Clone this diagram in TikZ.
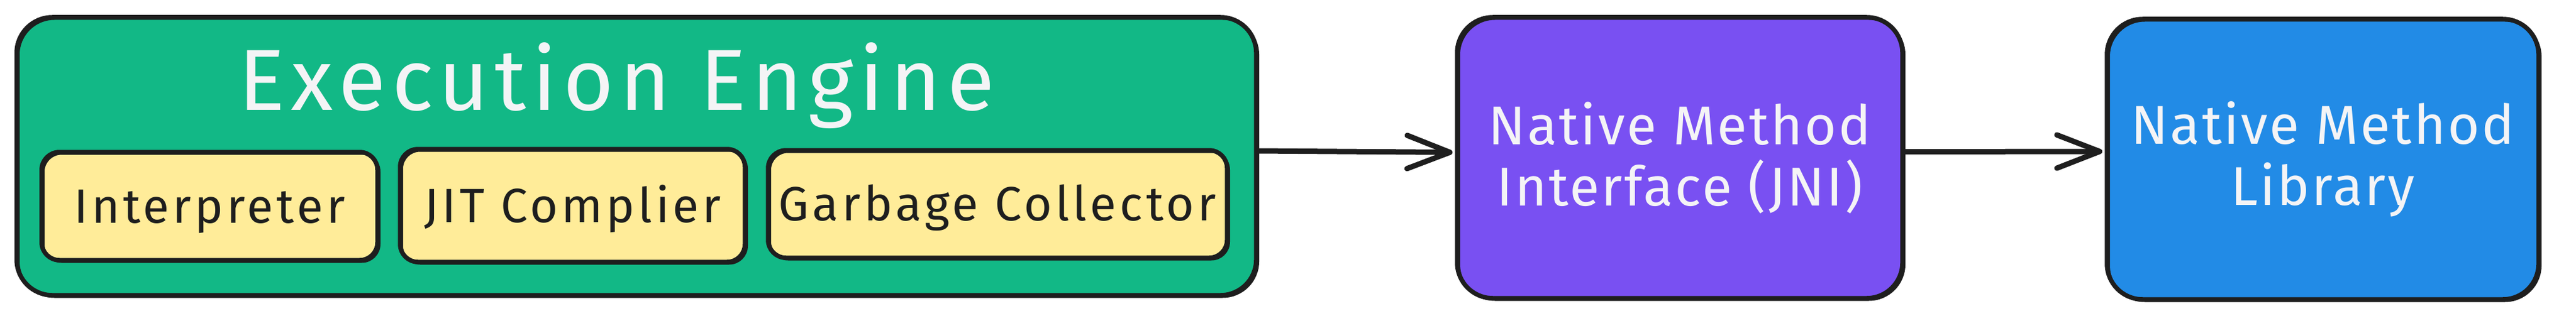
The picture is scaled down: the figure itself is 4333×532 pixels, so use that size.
\documentclass[tikz,border=0pt]{standalone}
\usepackage{fontspec}
\setmainfont{Fira Sans}[LetterSpace=7]
\newfontfamily\sidefont{Fira Sans}[LetterSpace=3.5]
\usetikzlibrary{arrows.meta}
\definecolor{strokec}{HTML}{1E1E1E}
\definecolor{greenc}{HTML}{12B886}
\definecolor{yellowc}{HTML}{FFEC99}
\definecolor{purplec}{HTML}{7950F2}
\definecolor{bluec}{HTML}{228BE6}
\definecolor{whitec}{HTML}{F4F4F6}
\tikzset{
  sketchbox/.style={draw=strokec, line width=7.5pt, line join=round,
    postaction={draw=strokec, line width=3pt, transform canvas={xshift=3.5pt,yshift=-3pt}}},
  bigbox/.style={sketchbox, rounded corners=60pt, inner sep=0pt},
  subbox/.style={sketchbox, fill=yellowc, rounded corners=30pt, inner sep=0pt,
    text=strokec, font=\fontsize{81}{96}\selectfont, text height=56pt, text depth=0pt},
  sidetext/.style={text=whitec, align=center, font=\sidefont\fontsize{92}{103}\selectfont},
  flow/.style={draw=strokec, line width=9pt, line cap=round, shorten >=4pt,
    -{Straight Barb[length=72pt,width=56pt,line width=9pt,round]}}
}
\begin{document}
\begin{tikzpicture}[x=1pt,y=-1pt]
\fill[white] (0,0) rectangle (4333,532);
\useasboundingbox (0,0) rectangle (4333,532);
% Execution engine
\node[bigbox, fill=greenc, minimum width=2085pt, minimum height=468pt] (ee) at (1070.5,263) {};
\node[anchor=base, text=whitec, font=\fontsize{146}{160}\selectfont, inner sep=0pt] (title) at (1037,185) {Execution Engine};
\node[subbox, minimum width=565pt, minimum height=182pt] (interp) at (352.5,347) {Interpreter};
\node[subbox, minimum width=580pt, minimum height=190pt] (jit) at (963,346) {JIT Complier};
\node[subbox, minimum width=772pt, minimum height=181pt] (gc) at (1678,343.5) {Garbage Collector};
% Native method interface
\node[bigbox, fill=purplec, minimum width=749pt, minimum height=473pt, sidetext] (jni) at (2825.5,265.5) {Native Method\\Interface (JNI)};
% Native method library
\node[bigbox, fill=bluec, minimum width=726pt, minimum height=472pt, sidetext] (lib) at (3907,268) {Native Method\\Library};
% connectors
\draw[flow] ([yshift=9pt]ee.east) -- ([yshift=9pt]jni.west);
\draw[flow] ([yshift=10pt]jni.east) -- ([yshift=13pt]lib.west);
\end{tikzpicture}
\end{document}
